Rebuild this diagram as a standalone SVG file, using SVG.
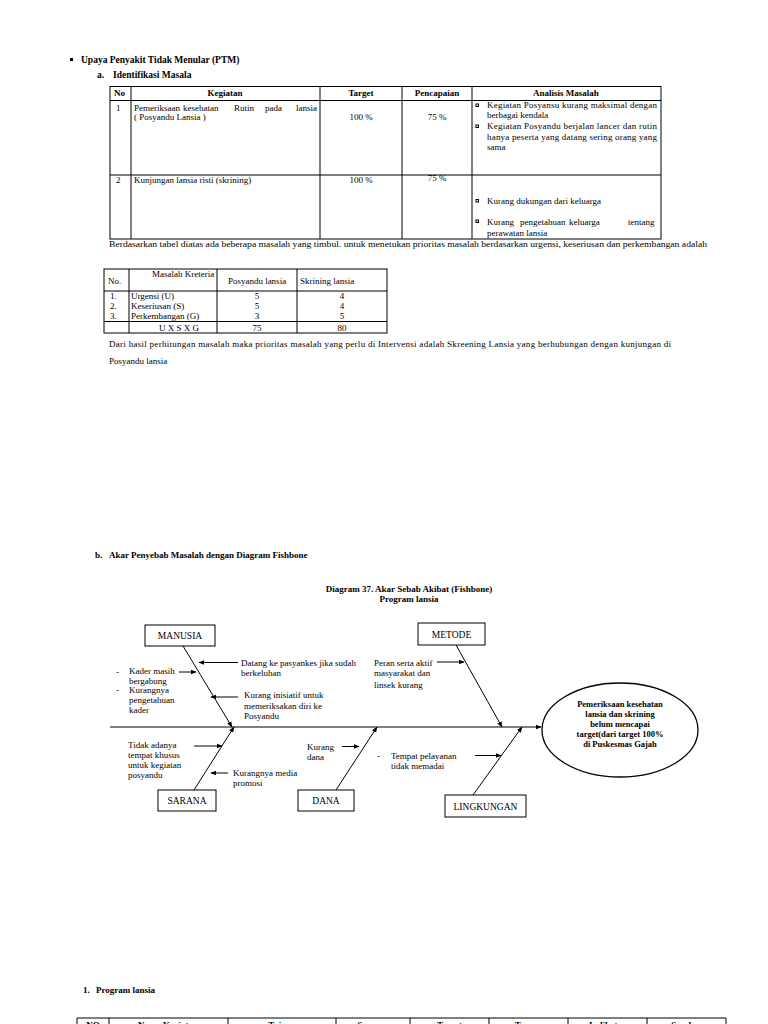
<svg xmlns="http://www.w3.org/2000/svg" width="768" height="1024" viewBox="0 0 768 1024">
<style>
text{font-family:"Liberation Serif","Times New Roman",serif;font-size:9px;fill:#000}
.b{font-weight:bold}
.c{text-anchor:middle}
.s{font-size:9px}
.e{font-size:8.5px;font-weight:bold;text-anchor:middle}
.t line,.t rect{stroke:#000;stroke-width:1;fill:none}
.box{fill:#fff;stroke:#000;stroke-width:1}
.con line{stroke:#000;stroke-width:1;marker-end:url(#ah)}
</style>
<defs>
<marker id="ah" viewBox="0 0 10 10" refX="9" refY="5" markerWidth="6" markerHeight="6" orient="auto" markerUnits="userSpaceOnUse">
<path d="M0,1 L10,5 L0,9 Z" fill="#000"/>
</marker>
</defs>
<rect width="768" height="1024" fill="#fff"/>

<!-- Heading -->
<rect x="70" y="58" width="3" height="3" fill="#000"/>
<text x="81" y="63" class="b" style="font-size:9.5px">Upaya Penyakit Tidak Menular (PTM)</text>
<text x="97" y="78" class="b" style="font-size:9.5px">a.</text>
<text x="113" y="78" class="b" style="font-size:9.5px">Identifikasi Masala</text>

<!-- Table 1 -->
<g class="t" id="table1">
<rect x="110" y="86.5" width="551" height="152.5"/>
<line x1="110" y1="100.5" x2="661" y2="100.5"/>
<line x1="110" y1="175" x2="661" y2="175"/>
<line x1="131" y1="86.5" x2="131" y2="239"/>
<line x1="320" y1="86.5" x2="320" y2="239"/>
<line x1="402" y1="86.5" x2="402" y2="239"/>
<line x1="472" y1="86.5" x2="472" y2="239"/>
<text x="114" y="96" class="b">No</text>
<text x="225" y="96" class="b c">Kegiatan</text>
<text x="361" y="96" class="b c">Target</text>
<text x="437" y="96" class="b c">Pencapaian</text>
<text x="566" y="96" class="b c">Analisis Masalah</text>
<text x="116" y="111">1</text>
<text y="111"><tspan x="134">Pemeriksaan</tspan><tspan x="183">kesehatan</tspan><tspan x="234">Rutin</tspan><tspan x="265">pada</tspan><tspan x="296">lansia</tspan></text>
<text x="134" y="120">( Posyandu Lansia )</text>
<text x="361" y="120" class="c">100 %</text>
<text x="437" y="120" class="c">75 %</text>
<rect x="476" y="104" width="2.5" height="2.5" fill="#000" stroke="none"/>
<text x="487" y="108" textLength="170" lengthAdjust="spacing">Kegiatan Posyansu kurang maksimal dengan</text>
<text x="487" y="118">berbagai kendala</text>
<rect x="476" y="125" width="2.5" height="2.5" fill="#000" stroke="none"/>
<text x="487" y="129" textLength="170" lengthAdjust="spacing">Kegiatan Posyandu berjalan lancer dan rutin</text>
<text x="487" y="139.5" textLength="170" lengthAdjust="spacing">hanya peserta yang datang sering orang yang</text>
<text x="487" y="150">sama</text>
<text x="116" y="183">2</text>
<text x="134" y="183">Kunjungan lansia risti (skrining)</text>
<text x="361" y="183" class="c">100 %</text>
<text x="437" y="181" class="c">75 %</text>
<rect x="476" y="199.5" width="2.5" height="2.5" fill="#000" stroke="none"/>
<text x="487" y="204">Kurang dukungan dari keluarga</text>
<rect x="476" y="220" width="2.5" height="2.5" fill="#000" stroke="none"/>
<text y="224.5"><tspan x="487">Kurang</tspan><tspan x="520">pengetahuan</tspan><tspan x="569">keluarga</tspan><tspan x="628">tentang</tspan></text>
<text x="487" y="235.5">perawatan lansia</text>
</g>
<text x="109" y="247" textLength="598" lengthAdjust="spacingAndGlyphs">Berdasarkan tabel diatas ada beberapa masalah yang timbul. untuk menetukan prioritas masalah berdasarkan urgensi, keseriusan dan perkembangan adalah</text>

<!-- Table 2 -->
<g class="t" id="table2">
<rect x="104" y="269" width="283" height="64"/>
<line x1="104" y1="291" x2="387" y2="291"/>
<line x1="104" y1="321.5" x2="387" y2="321.5"/>
<line x1="129" y1="269" x2="129" y2="333"/>
<line x1="217" y1="269" x2="217" y2="333"/>
<line x1="297" y1="269" x2="297" y2="333"/>
<text x="108" y="284">No.</text>
<text x="152" y="277">Masalah Kreteria</text>
<text x="257" y="284" class="c">Posyandu lansia</text>
<text x="300" y="284">Skrining lansia</text>
<text x="110" y="299">1.</text>
<text x="131" y="299">Urgensi (U)</text>
<text x="257" y="299" class="c">5</text>
<text x="342" y="299" class="c">4</text>
<text x="110" y="309">2.</text>
<text x="131" y="309">Keseriusan (S)</text>
<text x="257" y="309" class="c">5</text>
<text x="342" y="309" class="c">4</text>
<text x="110" y="319">3.</text>
<text x="131" y="319">Perkembangan (G)</text>
<text x="257" y="319" class="c">3</text>
<text x="342" y="319" class="c">5</text>
<text x="179" y="330.5" class="c">U X S X G</text>
<text x="257" y="330.5" class="c">75</text>
<text x="342" y="330.5" class="c">80</text>
</g>
<text x="109" y="347" textLength="562" lengthAdjust="spacing">Dari hasil perhitungan masalah maka prioritas masalah yang perlu di Intervensi adalah Skreening Lansia yang berhubungan dengan kunjungan di</text>
<text x="109" y="364">Posyandu lansia</text>

<!-- Section b -->
<text x="95" y="558" class="b">b.</text>
<text x="109" y="558" class="b">Akar Penyebab Masalah dengan Diagram Fishbone</text>
<text x="409" y="592" class="b c">Diagram 37. Akar Sebab Akibat (Fishbone)</text>
<text x="409" y="602" class="b c">Program lansia</text>

<!-- Fishbone connectors -->
<g class="con" id="connectors">
<line x1="110" y1="727" x2="541" y2="727"/>
<line x1="183" y1="646" x2="232" y2="727"/>
<line x1="456" y1="645" x2="502" y2="727"/>
<line x1="194" y1="790" x2="234" y2="727"/>
<line x1="336" y1="790" x2="377" y2="727"/>
<line x1="473" y1="795" x2="522" y2="727"/>
<line x1="238" y1="662.5" x2="199" y2="662.5"/>
<line x1="179" y1="672" x2="196" y2="672"/>
<line x1="238" y1="697" x2="211" y2="697"/>
<line x1="194" y1="746" x2="222" y2="746"/>
<line x1="228" y1="773" x2="211" y2="773"/>
<line x1="342" y1="746.5" x2="359" y2="746.5"/>
<line x1="437" y1="662" x2="464" y2="662"/>
<line x1="475" y1="755.5" x2="501" y2="755.5"/>
</g>

<!-- Nodes -->
<g id="manusia">
<rect class="box" x="145" y="625" width="70" height="21"/>
<text x="180" y="639" class="c" style="font-size:9.5px">MANUSIA</text>
</g>
<g id="metode">
<rect class="box" x="418" y="623" width="67" height="22"/>
<text x="451.5" y="637.5" class="c" style="font-size:9.5px">METODE</text>
</g>
<g id="sarana">
<rect class="box" x="158" y="790" width="58" height="21"/>
<text x="187" y="804" class="c" style="font-size:9.5px">SARANA</text>
</g>
<g id="dana">
<rect class="box" x="298" y="790" width="56" height="21"/>
<text x="326" y="804" class="c" style="font-size:9.5px">DANA</text>
</g>
<g id="lingkungan">
<rect class="box" x="445" y="795" width="81" height="22"/>
<text x="485.5" y="809.5" class="c" style="font-size:9.5px">LINGKUNGAN</text>
</g>
<g id="effect">
<ellipse cx="620" cy="730" rx="78" ry="47" fill="#fff" stroke="#000" stroke-width="1.3"/>
<text x="620" y="707" class="e">Pemeriksaan kesehatan</text>
<text x="620" y="717" class="e">lansia dan skrining</text>
<text x="620" y="727" class="e">belum mencapai</text>
<text x="620" y="737" class="e">target(dari target 100%</text>
<text x="620" y="747" class="e">di Puskesmas Gajah</text>
</g>

<!-- Cause labels -->
<g id="causes">
<text x="241" y="666" class="s">Datang ke pasyankes jika sudah</text>
<text x="241" y="676" class="s">berkeluhan</text>
<text x="116" y="674.5" class="s">-</text>
<text x="129" y="674" class="s">Kader masih</text>
<text x="129" y="684" class="s">bergabung</text>
<text x="116" y="693" class="s">-</text>
<text x="129" y="693" class="s">Kurangnya</text>
<text x="129" y="703" class="s">pengetahuan</text>
<text x="129" y="712.5" class="s">kader</text>
<text x="244" y="698" class="s">Kurang inisiatif untuk</text>
<text x="244" y="708.5" class="s">memeriksakan diri ke</text>
<text x="244" y="719" class="s">Posyandu</text>
<text x="128" y="748" class="s">Tidak adanya</text>
<text x="128" y="758" class="s">tempat khusus</text>
<text x="128" y="768" class="s">untuk kegiatan</text>
<text x="128" y="778" class="s">posyandu</text>
<text x="233" y="776" class="s">Kurangnya media</text>
<text x="233" y="786" class="s">promosi</text>
<text x="307" y="749.5" class="s">Kurang</text>
<text x="307" y="760" class="s">dana</text>
<text x="374" y="666" class="s">Peran serta aktif</text>
<text x="374" y="676" class="s">masyarakat dan</text>
<text x="374" y="687.5" class="s">linsek kurang</text>
<text x="377" y="758.5" class="s">-</text>
<text x="391" y="758.5" class="s">Tempat pelayanan</text>
<text x="391" y="769" class="s">tidak memadai</text>
</g>

<!-- Section 1 -->
<text x="83" y="993" class="b">1.</text>
<text x="96" y="993" class="b">Program lansia</text>
<g class="t" id="table3">
<line x1="77" y1="1018" x2="726" y2="1018"/>
<line x1="77" y1="1018" x2="77" y2="1024"/>
<line x1="109" y1="1018" x2="109" y2="1024"/>
<line x1="228" y1="1018" x2="228" y2="1024"/>
<line x1="336" y1="1018" x2="336" y2="1024"/>
<line x1="410" y1="1018" x2="410" y2="1024"/>
<line x1="489" y1="1018" x2="489" y2="1024"/>
<line x1="568" y1="1018" x2="568" y2="1024"/>
<line x1="647" y1="1018" x2="647" y2="1024"/>
<line x1="726" y1="1018" x2="726" y2="1024"/>
<text x="93" y="1028" class="b c">NO</text>
<text x="168" y="1028" class="b c">Nama Kegiatan</text>
<text x="282" y="1028" class="b c">Tujuan</text>
<text x="373" y="1028" class="b c">Sasaran</text>
<text x="449.5" y="1028" class="b c">Target</text>
<text x="528.5" y="1028" class="b c">Tenaga</text>
<text x="607.5" y="1028" class="b c">Indikator</text>
<text x="686.5" y="1028" class="b c">Sumber</text>
</g>
</svg>
